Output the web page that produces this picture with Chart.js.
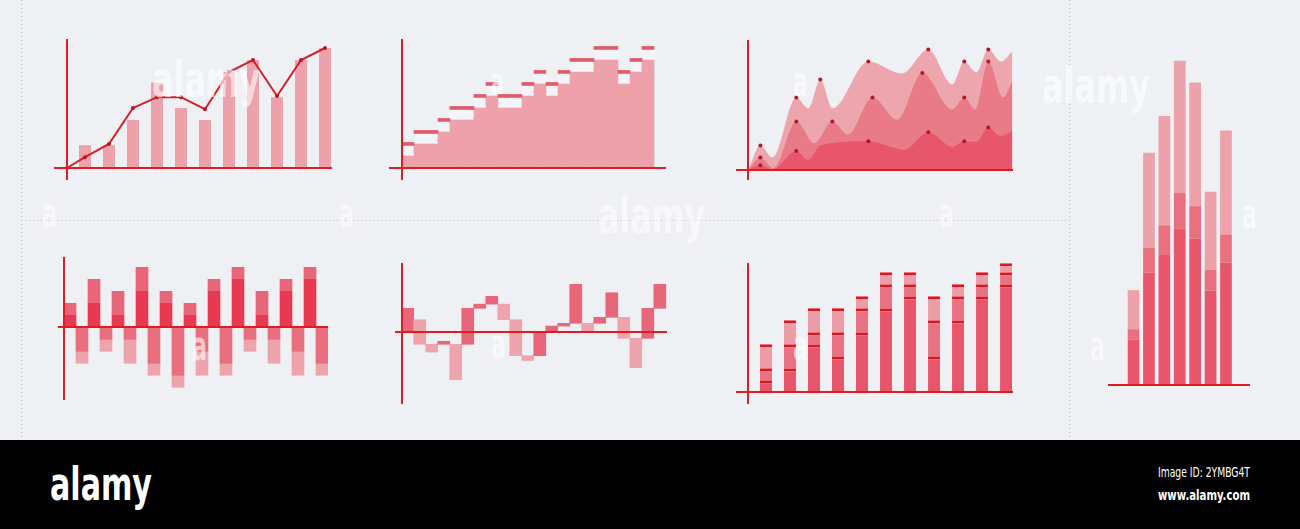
<!DOCTYPE html>
<html lang="en">
<head>
<meta charset="utf-8">
<title>Chart set</title>
<script src="https://cdn.jsdelivr.net/npm/chart.js@4.4.1/dist/chart.umd.min.js"></script>
<style>
    html, body { margin: 0; padding: 0; }
    body {
        width: 1300px; height: 529px; position: relative; overflow: hidden;
        background: #eef0f4;
        font-family: 'DejaVu Sans Condensed', 'DejaVu Sans', sans-serif;
    }
    .chart { position: absolute; }
    .chart canvas { display: block; }
    .vline {
        position: absolute; top: 0; width: 1px; height: 440px;
        background: repeating-linear-gradient(to bottom, #b7bbc4 0 1px, transparent 1px 4px);
    }
    .hline {
        position: absolute; height: 1px;
        background: repeating-linear-gradient(to right, #b7bbc4 0 1px, transparent 1px 4px);
    }
    .wm {
        position: absolute; color: rgba(255, 255, 255, 0.6); font-weight: bold;
        line-height: 1; white-space: nowrap; transform-origin: 0 0;
    }
    #footer { position: absolute; left: 0; top: 440px; width: 1300px; height: 89px; background: #000; color: #fff; }
    #footer span { position: absolute; line-height: 1; white-space: nowrap; transform-origin: 0 0; }
</style>
</head>
<body>
<div class="vline" style="left:21px"></div>
<div class="vline" style="left:1069px"></div>
<div class="hline" style="left:21px; top:220px; width:1048px"></div>

<div class="chart" style="left:54px; top:39px"><canvas id="growthChart" width="278" height="141"></canvas></div>
<div class="chart" style="left:389px; top:39px"><canvas id="stepChart" width="277" height="141"></canvas></div>
<div class="chart" style="left:736px; top:40px"><canvas id="waveChart" width="277" height="140"></canvas></div>
<div class="chart" style="left:1108px; top:50px"><canvas id="towerChart" width="142" height="345"></canvas></div>
<div class="chart" style="left:58px; top:257px"><canvas id="swingChart" width="270" height="143"></canvas></div>
<div class="chart" style="left:395px; top:263px"><canvas id="flowChart" width="272" height="141"></canvas></div>
<div class="chart" style="left:736px; top:263px"><canvas id="layerChart" width="277" height="141"></canvas></div>

<!-- watermark -->
<span class="wm" data-w="108" style="left:152px; top:55px; font-size:50px">alamy</span>
<span class="wm" data-w="107" style="left:598px; top:191px; font-size:50px">alamy</span>
<span class="wm" data-w="108" style="left:1042px; top:61px; font-size:50px">alamy</span>
<span class="wm" data-w="15" style="left:42px; top:193px; font-size:40px">a</span>
<span class="wm" data-w="15" style="left:339px; top:193px; font-size:40px">a</span>
<span class="wm" data-w="15" style="left:939px; top:193px; font-size:40px">a</span>
<span class="wm" data-w="15" style="left:1242px; top:194px; font-size:40px">a</span>
<span class="wm" data-w="15" style="left:192px; top:326px; font-size:40px">a</span>
<span class="wm" data-w="15" style="left:491px; top:324px; font-size:40px">a</span>
<span class="wm" data-w="15" style="left:793px; top:326px; font-size:40px">a</span>
<span class="wm" data-w="15" style="left:1090px; top:326px; font-size:40px">a</span>
<span class="wm" data-w="15" style="left:793px; top:62px; font-size:40px">a</span>
<span class="wm" data-w="13" style="left:491px; top:64px; font-size:36px">a</span>

<div id="footer">
    <span class="fit" data-w="102" style="left:50px; top:20px; font-size:47px; font-weight:bold">alamy</span>
    <span class="fit" data-w="92" style="left:1158px; top:25px; font-size:14px">Image ID: 2YMBG4T</span>
    <span class="fit" data-w="92" style="left:1158px; top:48px; font-size:14px; font-weight:bold">www.alamy.com</span>
</div>

<script>
// 颜色
const AXIS_RED = '#e01b22';
const LINE_RED = '#d42027';
const DOT_RED = '#b81626';
const SEP_RED = '#dc1622';
const PINK_LIGHT = '#eca1ab';
const PINK_MID = '#e9717f';
const PINK_DARK = '#e8566b';
const RED_BRIGHT = '#e73a52';
const MARK_PINK = '#e05a6c';

// chart 1: bars with a line
const growthBars = [1.9, 1.9, 4, 7.1, 5, 4, 8, 9, 5.9, 9, 10];
const growthLineX = [0.25, 1, 2, 3, 4, 5, 6, 7, 8, 9, 10, 11];
const growthLine = [0, 0.9, 2, 5, 5.9, 5.9, 4.9, 8, 9, 6, 9, 10];

// chart 2: steps with target marks
const stepBars = [1, 2, 2, 3, 4, 4, 5, 6, 5, 5, 6, 7, 6, 7, 8, 8, 9, 9, 7, 8, 9];
const stepTargets = [2, 3, 3, 4, 5, 5, 6, 7, 6, 6, 7, 8, 7, 8, 9, 9, 10, 10, 8, 9, 10];

// chart 3: layered waves
const waveTopX = [0, 1, 2, 4, 5, 6, 7, 10, 12.8, 15, 17, 18, 19, 20, 21.05, 22];
const waveTop = [0, 2, 1, 6, 5.1, 7.5, 5.1, 9, 8, 10, 7.1, 9, 8.1, 10, 9, 9.85];
const waveMidX = [0, 1, 2.1, 4, 5.5, 7, 8.3, 10.35, 12.4, 14.5, 17, 18, 18.9, 20, 21.25, 22];
const waveMid = [0, 1, 0.1, 4, 2.2, 4, 2.9, 6, 4.15, 8.05, 5, 6, 5, 9, 6, 7.35];
const waveLowX = [0, 1, 2, 4, 5, 6, 10, 13, 15, 17, 18, 19, 20, 21, 22];
const waveLow = [0, 0.35, 0.02, 1.55, 0.8, 2, 2.35, 1.65, 3.1, 1.9, 2.35, 2.3, 3.5, 2.8, 3.2];

// chart 4: tall stacked bars
const towerBase = [3.8, 9.35, 10.9, 13, 12.2, 7.85, 10.2];
const towerMid = [0.85, 2.1, 2.4, 3.0, 2.7, 1.75, 2.3];
const towerTop = [3.25, 7.9, 9.1, 11.0, 10.3, 6.5, 8.7];

// chart 5: up / down stacked bars (up at odd slots, down at even slots)
const swingUpInner = [1, 2, 1, 3, 2, 1, 3, 4, 1, 3, 4];
const swingUpOuter = [1, 2, 2, 2, 1, 1, 1, 1, 2, 1, 1];
const swingDownInner = [-2, -1, -1, -3, -4, -2, -3, -1, -1, -2, -3];
const swingDownOuter = [-1, -1, -2, -1, -1, -2, -1, -1, -2, -2, -1];

// chart 6: floating steps
const flowFrom = [0, 1, -1.05, -1.05, -1.05, -1.05, 1.95, 2.3, 2.3, 1, -2, -2, 0, 0.47, 0.7, 0.7, 0.7, 1.2, 1.2, -0.55, -0.55, 1.95];
const flowTo = [1.95, -1.05, -1.7, -0.8, -4, 1.95, 2.3, 2.95, 1, -2, -2.4, 0, 0.47, 0.7, 3.95, 0, 1.2, 3.25, -0.55, -3, 1.95, 3.95];

// chart 7: stacked bars with separators
const layerBase = [1, 2, 4, 3, 5, 7, 8, 3, 6, 8, 9];
const layerMid = [1, 2, 1, 2, 2, 2, 1, 3, 2, 1, 1];
const layerTop = [2, 2, 2, 2, 1, 1, 1, 2, 1, 1, 0.75];

// 坐标轴：只画一条红线
const makeScale = (min, max, axisAt, extra = {}) => ({
    type: 'linear',
    min: min,
    max: max,
    bounds: 'data',
    offset: false,
    ticks: { display: false },
    border: { display: false },
    grid: {
        display: axisAt !== null,
        offset: false,
        drawTicks: false,
        color: AXIS_RED,
        lineWidth: 2,
        z: 1
    },
    afterBuildTicks: (scale) => {
        scale.ticks = axisAt === null ? [] : [{ value: axisAt }];
    },
    ...extra
});

const baseOptions = (xScale, yScale) => ({
    responsive: false,
    animation: false,
    events: [],
    layout: { padding: 0, autoPadding: false },
    plugins: { legend: { display: false }, tooltip: { enabled: false } },
    scales: { x: xScale, y: yScale }
});

const toPoints = (values, xs) => values.map((v, i) => ({ x: xs ? xs[i] : i + 1, y: v }));

const isPeak = (values, i) => i > 0 && i < values.length - 1 && values[i] > values[i - 1] && values[i] > values[i + 1];

// chart 1
new Chart(document.getElementById('growthChart'), {
    type: 'bar',
    data: {
        datasets: [
            {
                type: 'line',
                data: toPoints(growthLine, growthLineX),
                borderColor: LINE_RED,
                borderWidth: 2,
                pointRadius: 2,
                pointBorderWidth: 0,
                pointBackgroundColor: DOT_RED,
                tension: 0
            },
            {
                data: toPoints(growthBars),
                backgroundColor: PINK_LIGHT,
                barPercentage: 0.5,
                categoryPercentage: 1
            }
        ]
    },
    options: baseOptions(makeScale(-0.29, 11.29, 0.25), makeScale(-1, 10.75, 0))
});

// chart 2
new Chart(document.getElementById('stepChart'), {
    type: 'bar',
    data: {
        datasets: [
            {
                data: stepTargets.map((t, i) => ({ x: i + 1, y: [t - 0.12, t + 0.13] })),
                backgroundColor: MARK_PINK
            },
            {
                data: toPoints(stepBars),
                backgroundColor: PINK_LIGHT
            },
            {
                data: stepBars.map((v, i) => ({ x: i + 1, y: [v, stepTargets[i]] })),
                backgroundColor: 'rgba(255, 255, 255, 0.25)'
            }
        ]
    },
    options: {
        ...baseOptions(makeScale(-0.58, 22.5, 0.5), makeScale(-1, 10.75, 0)),
        datasets: { bar: { grouped: false, barPercentage: 1, categoryPercentage: 1 } }
    }
});

// chart 3
const waveLayer = (xs, ys, color) => ({
    data: toPoints(ys, xs),
    backgroundColor: color,
    borderColor: 'rgba(0, 0, 0, 0)',
    borderWidth: 0,
    fill: 'origin',
    cubicInterpolationMode: 'monotone',
    pointRadius: (ctx) => isPeak(ys, ctx.dataIndex) ? 2 : 0,
    pointBorderWidth: 0,
    pointBackgroundColor: DOT_RED
});

new Chart(document.getElementById('waveChart'), {
    type: 'line',
    data: {
        datasets: [
            waveLayer(waveLowX, waveLow, PINK_DARK),
            waveLayer(waveMidX, waveMid, '#e97a88'),
            waveLayer(waveTopX, waveTop, '#eda5ae')
        ]
    },
    options: baseOptions(makeScale(-1.03, 22.06, 0), makeScale(-0.875, 10.8, 0))
});

// chart 4
new Chart(document.getElementById('towerChart'), {
    type: 'bar',
    data: {
        datasets: [
            { data: toPoints(towerBase), backgroundColor: PINK_DARK },
            { data: toPoints(towerMid), backgroundColor: PINK_MID },
            { data: toPoints(towerTop), backgroundColor: PINK_LIGHT }
        ]
    },
    options: {
        ...baseOptions(
            makeScale(-0.66, 8.56, null, { stacked: true }),
            makeScale(-0.83, 27.9, 0, { stacked: true })
        ),
        datasets: { bar: { barPercentage: 0.76, categoryPercentage: 1 } }
    }
});

// chart 5
const upSlots = swingUpInner.map((v, i) => i * 2 + 1);
const downSlots = swingDownInner.map((v, i) => i * 2 + 2);

new Chart(document.getElementById('swingChart'), {
    type: 'bar',
    data: {
        datasets: [
            { data: toPoints(swingUpInner, upSlots), backgroundColor: RED_BRIGHT },
            { data: toPoints(swingUpOuter, upSlots), backgroundColor: '#e8667a' },
            { data: toPoints(swingDownInner, downSlots), backgroundColor: '#e96e7e' },
            { data: toPoints(swingDownOuter, downSlots), backgroundColor: '#eea3ad' }
        ]
    },
    options: {
        ...baseOptions(
            makeScale(0, 22.5, 0.5, { stacked: true }),
            makeScale(-6.06, 5.86, 0, { stacked: true })
        ),
        datasets: { bar: { barPercentage: 1, categoryPercentage: 1 } }
    }
});

// chart 6
new Chart(document.getElementById('flowChart'), {
    type: 'bar',
    data: {
        datasets: [{
            data: flowFrom.map((f, i) => ({ x: i + 1, y: [f, flowTo[i]] })),
            backgroundColor: (ctx) => {
                const raw = ctx.raw;
                return raw && raw.y[1] > raw.y[0] ? '#e8667a' : '#eea3ad';
            },
            barPercentage: 1,
            categoryPercentage: 1
        }]
    },
    options: baseOptions(makeScale(-0.06, 22.6, 0.5), makeScale(-6.03, 5.73, 0))
});

// chart 7
const sepLayer = (values, color) => ({
    data: toPoints(values),
    backgroundColor: color,
    borderColor: SEP_RED,
    borderWidth: { top: 3, right: 0, bottom: 0, left: 0 },
    borderSkipped: false,
    inflateAmount: 0,
    barPercentage: 0.5,
    categoryPercentage: 1
});

new Chart(document.getElementById('layerChart'), {
    type: 'bar',
    data: {
        datasets: [
            sepLayer(layerBase, PINK_DARK),
            sepLayer(layerMid, '#e97383'),
            sepLayer(layerTop, '#ec9ca7')
        ]
    },
    options: baseOptions(
        makeScale(-0.25, 11.29, 0.25, { stacked: true }),
        makeScale(-0.975, 10.78, 0, { stacked: true })
    )
});

// 文字宽度适配
document.querySelectorAll('.wm, .fit').forEach((el) => {
    const target = parseFloat(el.dataset.w);
    const w = el.getBoundingClientRect().width;
    if (w > 0) el.style.transform = `scaleX(${target / w})`;
});
</script>
</body>
</html>
